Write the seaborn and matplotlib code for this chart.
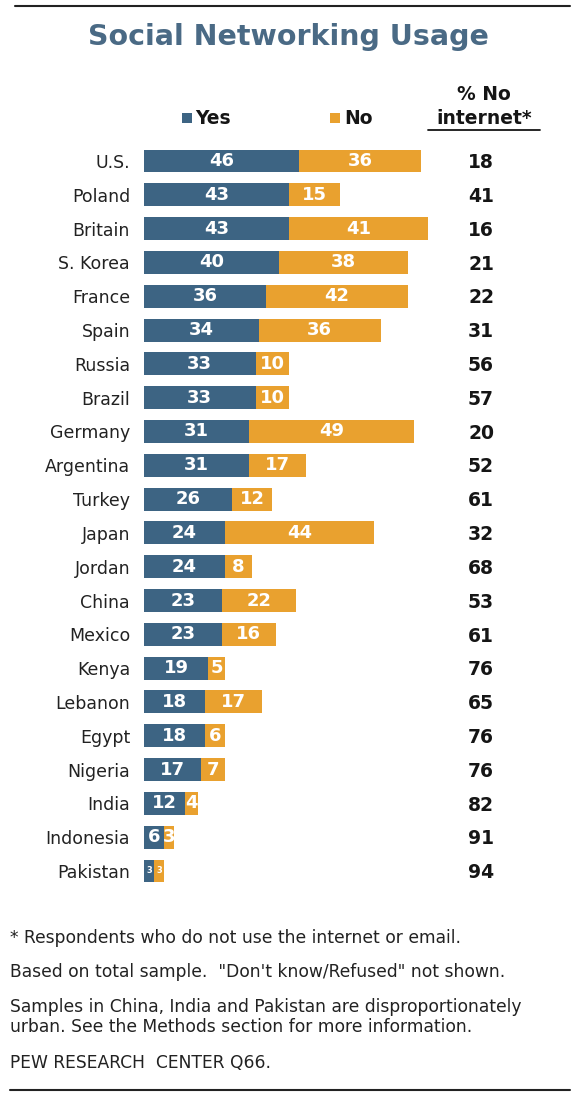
import matplotlib
matplotlib.use("Agg")
import matplotlib.pyplot as plt
import seaborn as sns
import pandas as pd
from matplotlib.transforms import blended_transform_factory

countries = ["U.S.", "Poland", "Britain", "S. Korea", "France", "Spain", "Russia",
             "Brazil", "Germany", "Argentina", "Turkey", "Japan", "Jordan", "China",
             "Mexico", "Kenya", "Lebanon", "Egypt", "Nigeria", "India", "Indonesia",
             "Pakistan"]
yes_vals = [46, 43, 43, 40, 36, 34, 33, 33, 31, 31, 26, 24, 24, 23, 23, 19, 18, 18, 17, 12, 6, 3]
no_vals = [36, 15, 41, 38, 42, 36, 10, 10, 49, 17, 12, 44, 8, 22, 16, 5, 17, 6, 7, 4, 3, 3]
no_internet = [18, 41, 16, 21, 22, 31, 56, 57, 20, 52, 61, 32, 68, 53, 61, 76, 65, 76, 76, 82, 91, 94]

title = "Social Networking Usage"
footnotes = [
    "* Respondents who do not use the internet or email.",
    "Based on total sample.  \"Don't know/Refused\" not shown.",
    "Samples in China, India and Pakistan are disproportionately\nurban. See the Methods section for more information.",
    "PEW RESEARCH  CENTER Q66.",
]

BLUE = "#3D6483"
ORANGE = "#E9A12F"
TITLE_C = "#4A6A85"
DARK = "#151515"

sns.set_theme(style="white")
plt.rcParams["font.family"] = ["DejaVu Sans"]

df = pd.DataFrame({"country": countries, "yes": yes_vals, "no": no_vals})
df["total"] = df["yes"] + df["no"]

W, H = 585, 1100
fig = plt.figure(figsize=(W / 100, H / 100), dpi=100)
top_px, bot_px = 144.1, 887.9
ax = fig.add_axes([144 / W, 1 - bot_px / H, (W - 144) / W, (bot_px - top_px) / H])

sns.barplot(data=df, y="country", x="total", color=ORANGE, orient="h",
            width=0.68, ax=ax, saturation=1, linewidth=0)
sns.barplot(data=df, y="country", x="yes", color=BLUE, orient="h",
            width=0.68, ax=ax, saturation=1, linewidth=0)

ax.set_xlim(0, (W - 144) / 3.38)
ax.set_ylim(len(countries) - 0.5, -0.5)
ax.set_xlabel("")
ax.set_ylabel("")
ax.set_xticks([])
for s in ax.spines.values():
    s.set_visible(False)
ax.tick_params(axis="y", length=0, pad=10, labelsize=12.5, labelcolor="#222222")

for i, (y, n) in enumerate(zip(yes_vals, no_vals)):
    fs = 13 if y + n > 8 else 6
    ax.text(y / 2, i, str(y), ha="center", va="center", color="white",
            fontsize=fs, fontweight="bold")
    ax.text(y + n / 2, i, str(n), ha="center", va="center", color="white",
            fontsize=fs, fontweight="bold")

tr = blended_transform_factory(fig.transFigure, ax.transData)
for i, v in enumerate(no_internet):
    ax.text(481 / W, i + 0.05, str(v), transform=tr, ha="center", va="center",
            fontsize=13.5, fontweight="bold", color=DARK)

# title
fig.text(288 / W, 1 - 37 / H, title, ha="center", va="center", fontsize=20.5,
         fontweight="bold", color=TITLE_C)

# legend
fig.add_artist(plt.Rectangle((182 / W, 1 - 123 / H), 10 / W, 10 / H,
                             transform=fig.transFigure, color=BLUE, lw=0))
fig.text(195 / W, 1 - 118 / H, "Yes", ha="left", va="center", fontsize=13.5,
         fontweight="bold", color=DARK)
fig.add_artist(plt.Rectangle((330 / W, 1 - 123 / H), 10 / W, 10 / H,
                             transform=fig.transFigure, color=ORANGE, lw=0))
fig.text(344 / W, 1 - 118 / H, "No", ha="left", va="center", fontsize=13.5,
         fontweight="bold", color=DARK)
fig.text(484 / W, 1 - 94 / H, "% No", ha="center", va="center", fontsize=13.5,
         fontweight="bold", color=DARK)
fig.text(484 / W, 1 - 118 / H, "internet*", ha="center", va="center", fontsize=13.5,
         fontweight="bold", color=DARK)
fig.add_artist(plt.Line2D([428 / W, 540 / W], [1 - 130 / H, 1 - 130 / H],
                          transform=fig.transFigure, color=DARK, lw=1.3))

# rules
fig.add_artist(plt.Line2D([15 / W, 570 / W], [1 - 6 / H, 1 - 6 / H],
                          transform=fig.transFigure, color="#222222", lw=1.5))
fig.add_artist(plt.Line2D([10 / W, 570 / W], [1 - 1090 / H, 1 - 1090 / H],
                          transform=fig.transFigure, color="#222222", lw=1.5))

# footnotes
fy = [938, 972, 1017, 1063]
for txt, y in zip(footnotes, fy):
    fig.text(10 / W, 1 - y / H, txt, ha="left", va="center", fontsize=12.3,
             color="#222222", linespacing=1.15)

fig.savefig("out.png", dpi=100, facecolor="white")
